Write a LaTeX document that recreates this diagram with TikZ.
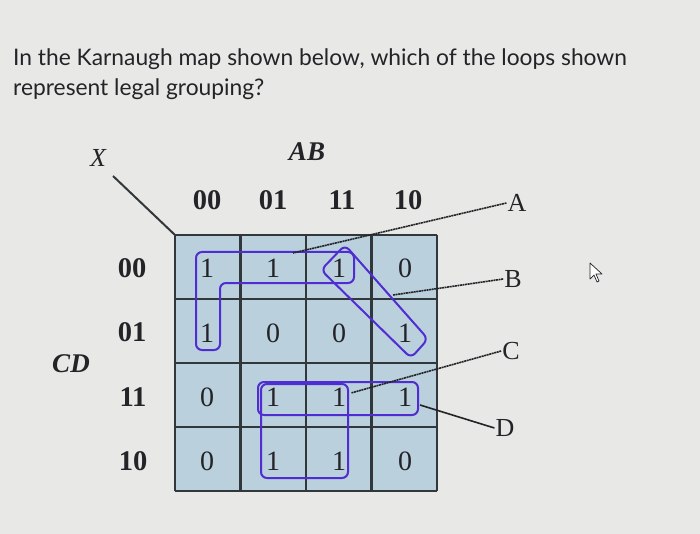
\documentclass[tikz,border=0pt]{standalone}
\usepackage{fontspec}
\setmainfont{Liberation Serif}
\newfontfamily\latofont{Lato}
\usetikzlibrary{positioning}

\definecolor{paper}{RGB}{232,232,230}
\definecolor{cellblue}{RGB}{186,208,220}
\definecolor{gridgray}{RGB}{50,55,60}
\definecolor{loopblue}{RGB}{80,45,210}
\definecolor{inkgray}{RGB}{35,35,40}

\begin{document}
\begin{tikzpicture}[x=1pt,y=-1pt,
    question/.style={anchor=base west,font=\latofont\fontsize{22.8}{26}\selectfont,text=inkgray,inner sep=0pt},
    header/.style={font=\fontsize{28.5}{30}\selectfont\bfseries,text=inkgray,inner sep=0pt},
    varname/.style={font=\fontsize{27}{30}\selectfont\bfseries\itshape,text=inkgray,inner sep=0pt},
    entry/.style={font=\fontsize{28}{30}\selectfont,text=inkgray,inner sep=0pt},
    letter/.style={font=\fontsize{26}{28}\selectfont,text=inkgray,inner sep=1pt},
    kloop/.style={draw=loopblue,line width=2pt,rounded corners=6pt},
    leader/.style={draw=inkgray,line width=1.6pt,dash pattern=on 2pt off 0.6pt}]

    \fill[paper](0,0)rectangle(700,534);
    \useasboundingbox(0,0)rectangle(700,534);

    % question
    \node[question](q1) at(13,66){In the Karnaugh map shown below, which of the loops shown};
    \node[question](q2) at(13,96){represent legal grouping?};

    % the map
    \fill[cellblue](175,235)rectangle(437,491);
    \foreach \x in {175,240.5,306,371.5,437}
        \draw[gridgray,line width=2.2pt](\x,235)--(\x,491);
    \foreach \y in {235,299,363,427,491}
        \draw[gridgray,line width=2.2pt](175,\y)--(437,\y);

    \node[varname,font=\fontsize{26}{30}\selectfont\itshape](X) at(98,158){X};
    \coordinate(corner) at(175,235);
    \draw[gridgray,line width=2pt](113,176)--(corner);
    \node[varname](AB) at(307,152){AB};
    \node[varname](CD) at(71,364){CD};

    \node[header](h00) at(207,200){00};
    \node[header](h01) at(273,200){01};
    \node[header](h11) at(342,200){11};
    \node[header](h10) at(408,200){10};
    \node[header](v00) at(132,268){00};
    \node[header](v01) at(132,332){01};
    \node[header](v11) at(133,397){11};
    \node[header](v10) at(133,461){10};

    % entries
    \node[entry](e00a) at(207,268){1};
    \node[entry](e00b) at(273,268){1};
    \node[entry](e00c) at(339,268){1};
    \node[entry](e00d) at(405,268){0};
    \node[entry](e01a) at(207,333){1};
    \node[entry](e01b) at(273,333){0};
    \node[entry](e01c) at(339,333){0};
    \node[entry](e01d) at(405,333){1};
    \node[entry](e11a) at(207,397){0};
    \node[entry](e11b) at(273,397){1};
    \node[entry](e11c) at(339,397){1};
    \node[entry](e11d) at(405,397){1};
    \node[entry](e10a) at(207,461){0};
    \node[entry](e10b) at(273,461){1};
    \node[entry](e10c) at(339,461){1};
    \node[entry](e10d) at(405,461){0};

    % loops
    \draw[kloop](196,252)--(354,252)--(354,283)--(220,283)--(220,350)--(196,350)--cycle;
    \draw[kloop](345,245)--(428,339)--(411,358)--(321,270)--cycle;
    \draw[kloop](258,382)--(418,382)--(418,415)--(258,415)--cycle;
    \draw[kloop](261,384)--(348,384)--(348,478)--(261,478)--cycle;

    % labels and leaders
    \node[letter](A) at(517,203){A};
    \node[letter](B) at(513,279){B};
    \node[letter](C) at(511,351){C};
    \node[letter](D) at(505,428){D};
    \coordinate(pa) at(293,253);
    \coordinate(pb) at(393,295);
    \coordinate(pc) at(351,393);
    \coordinate(pd) at(420,405);
    \draw[leader](A.west)--(pa);
    \draw[leader](B.west)--(pb);
    \draw[leader](C.west)--(pc);
    \draw[inkgray,line width=1.6pt](D.west)--(pd);

    % pointer
    \draw[inkgray,line width=0.7pt,fill=white,line join=round](590,263)--(590,279)--(594,275)--(597,282)--(599,281)--(596,274)--(602,274)--cycle;
\end{tikzpicture}
\end{document}
